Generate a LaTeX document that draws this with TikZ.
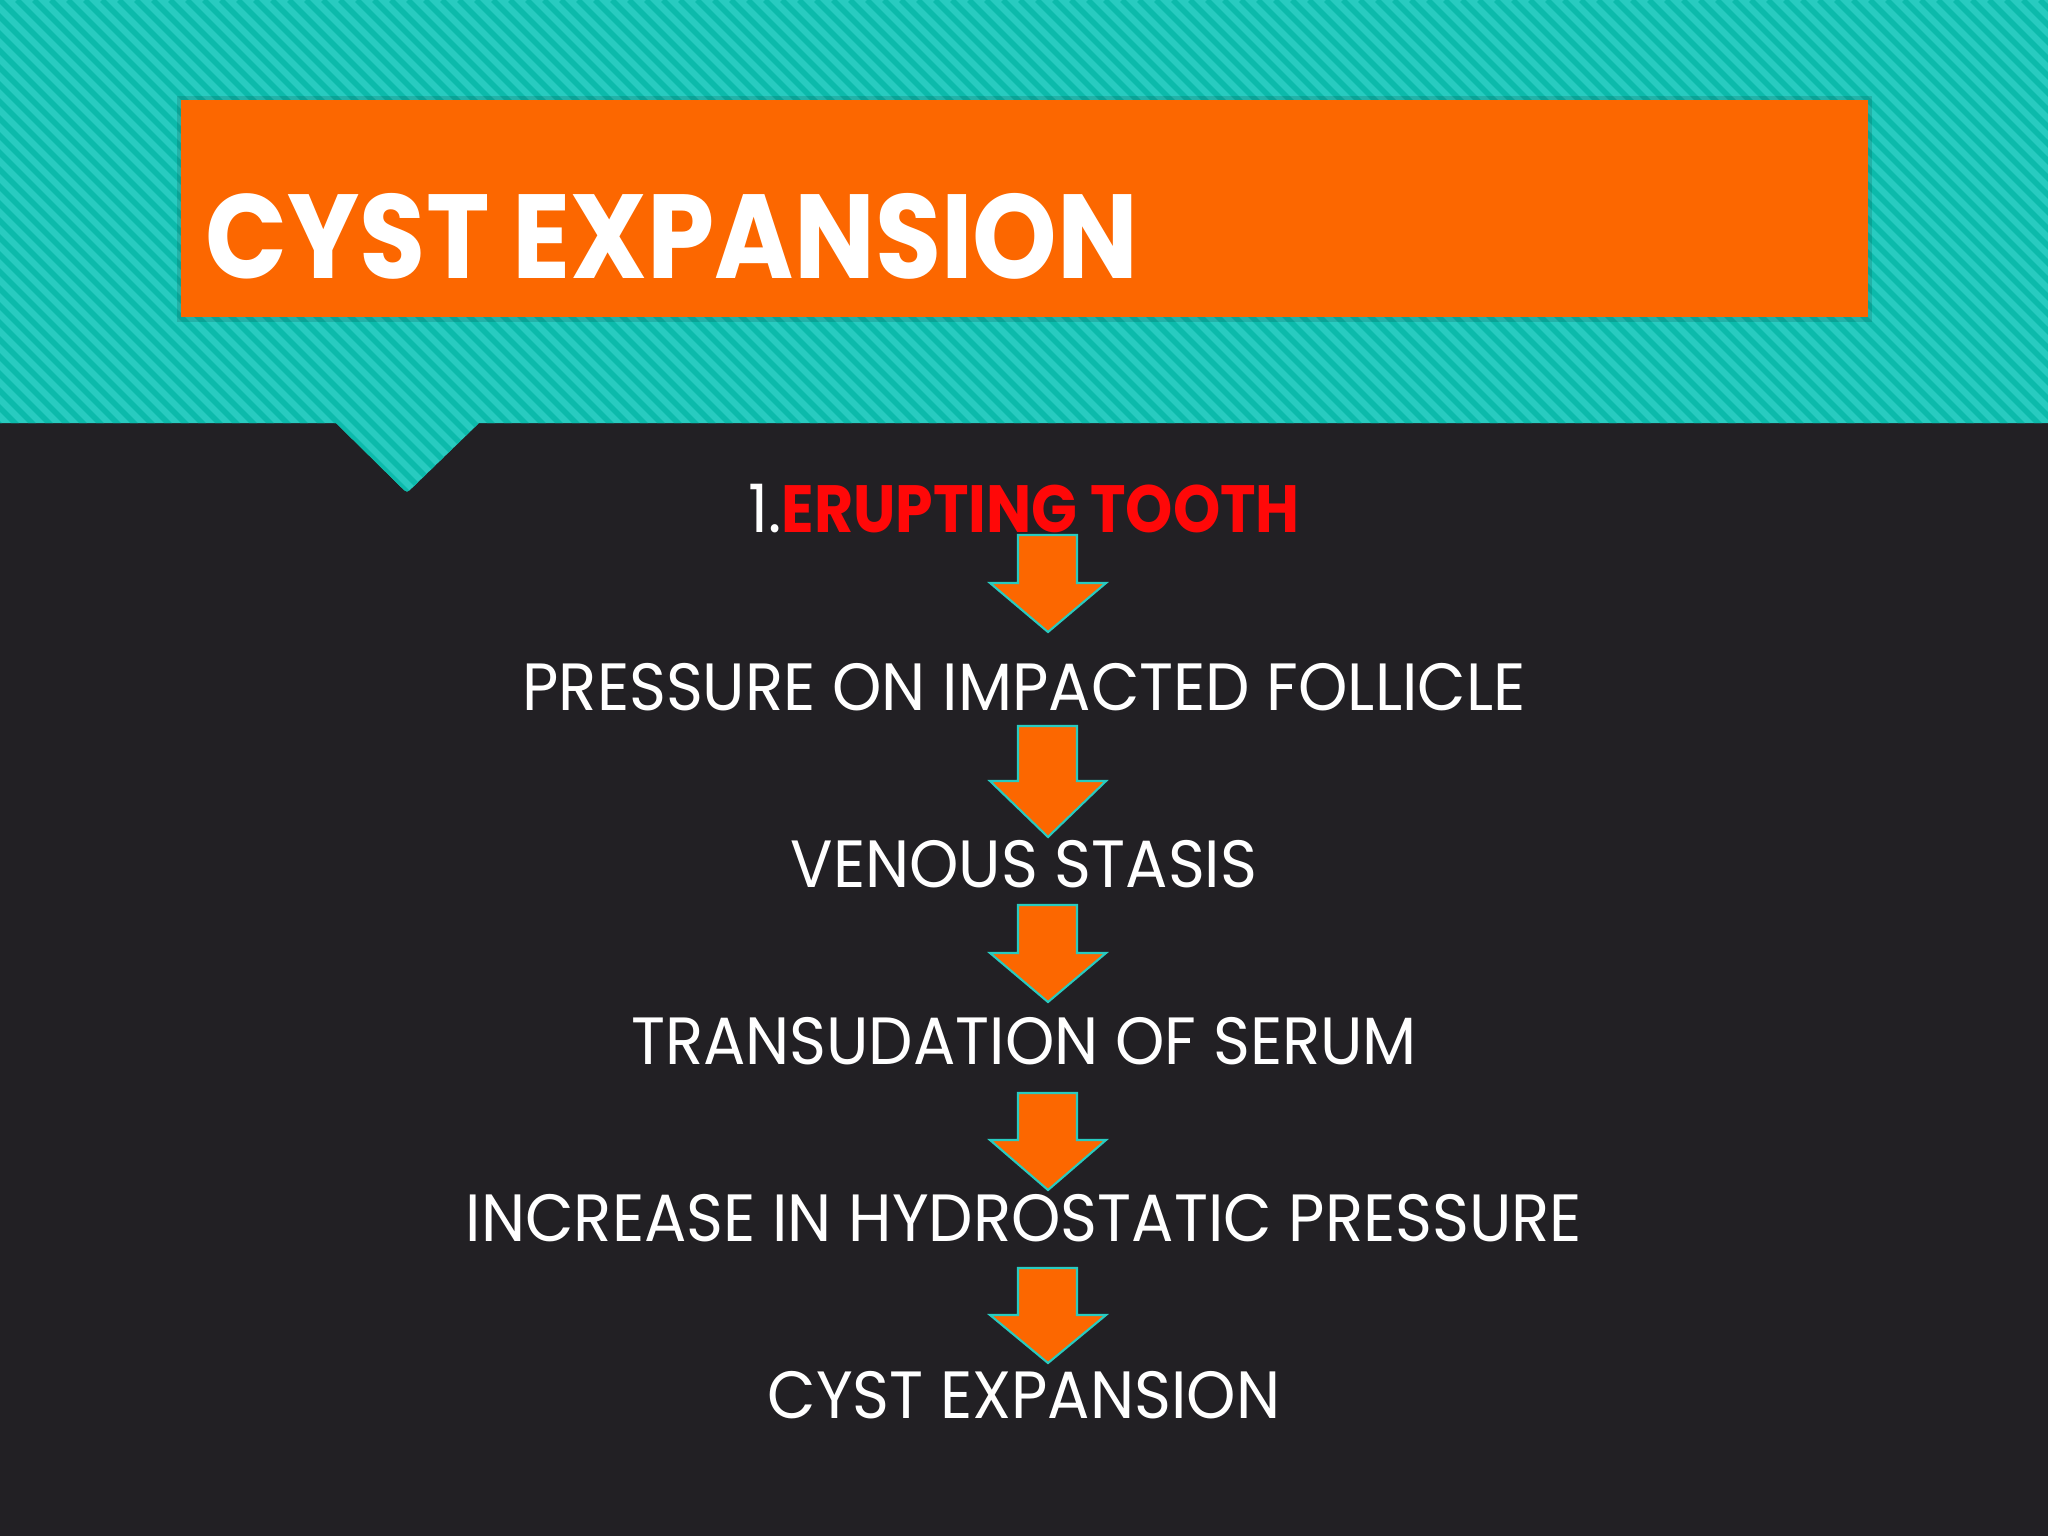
\documentclass[tikz,border=0pt]{standalone}
\usepackage{fontspec}
\setmainfont{Poppins}[FakeStretch=0.94]
\newfontfamily\narrowbold{Poppins}[FakeStretch=0.9]
\usetikzlibrary{positioning}

\definecolor{slatebg}{RGB}{34,32,36}
\definecolor{tealband}{RGB}{40,203,192}
\definecolor{tealstripe}{RGB}{12,186,171}
\definecolor{titleorange}{RGB}{252,103,0}
\definecolor{toothred}{RGB}{255,8,8}

\tikzset{
  steptext/.style={text=white, anchor=base, inner sep=0pt,
    font=\fontsize{19}{19}\selectfont},
  flowarrow/.style={fill=titleorange, draw=tealband, line width=0.6pt},
}

\begin{document}
\begin{tikzpicture}[x=0.01cm,y=-0.01cm]
  \useasboundingbox (0,0) rectangle (2048,1536);
  \fill[slatebg] (0,0) rectangle (2048,1536);

  % striped band and its notch
  \def\bandpath{(0,0) -- (2048,0) -- (2048,423) -- (479,423) -- (413,487)
    .. controls (407,493) .. (401,487) -- (336,423) -- (0,423) -- cycle}
  \fill[tealband] \bandpath;
  \begin{scope}
    \clip \bandpath;
    \foreach \x in {-527,-510,...,2048}
      \draw[tealstripe, line width=1.6pt] (\x,0) -- ++(520,520);
  \end{scope}

  % title box
  \fill[black, opacity=0.12] (177,96) rectangle (1872,322);
  \fill[titleorange] (181,100) rectangle (1868,317);
  \node[anchor=base west, text=white, inner sep=0pt,
    font=\narrowbold\fontsize{34}{34}\selectfont\bfseries] (title) at (205,278) {CYST EXPANSION};

  % steps
  \node[steptext] (s1) at (1024,532) {1.\textcolor{toothred}{\narrowbold\bfseries ERUPTING TOOTH}};
  \node[steptext] (s2) at (1024,710) {PRESSURE ON IMPACTED FOLLICLE};
  \node[steptext] (s3) at (1024,887) {VENOUS STASIS};
  \node[steptext] (s4) at (1024,1064) {TRANSUDATION OF SERUM};
  \node[steptext] (s5) at (1024,1241) {INCREASE IN HYDROSTATIC PRESSURE};
  \node[steptext] (s6) at (1024,1418) {CYST EXPANSION};

  % block arrows between the steps
  \foreach \top/\head/\tip in {535/583/632, 726/781/837, 905/953/1002,
      1093/1140/1190, 1268/1315/1363}
    \draw[flowarrow] (1018,\top) -- (1077,\top) -- (1077,\head) -- (1106,\head)
      -- (1048,\tip) -- (990,\head) -- (1018,\head) -- cycle;
\end{tikzpicture}
\end{document}
